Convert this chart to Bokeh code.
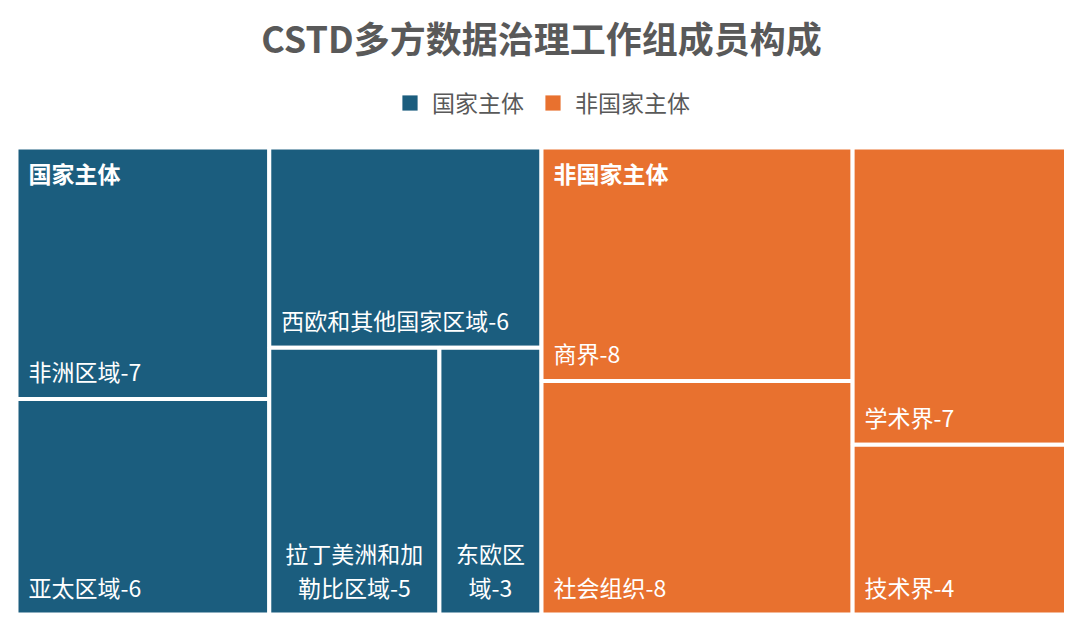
from bokeh.plotting import figure
from bokeh.models import Range1d, Legend, LegendItem, ColumnDataSource
from bokeh.core.properties import value
from bokeh.embed import file_html
from bokeh.resources import INLINE

# chart data
title_text = "CSTD多方数据治理工作组成员构成"
groups = ["国家主体", "非国家主体"]
group_colors = ["#1b5d7e", "#e8712f"]
state_names = ["非洲区域", "亚太区域", "西欧和其他国家区域", "拉丁美洲和加勒比区域", "东欧区域"]
state_values = [7, 6, 6, 5, 3]
nonstate_names = ["商界", "社会组织", "学术界", "技术界"]
nonstate_values = [8, 8, 7, 4]

W, H = 1064, 619
FONT = "Noto Sans CJK SC"
FS = 23

# treemap area (pixel-like data units, y grows downwards)
AX0, AX1, AY0, AY1 = 16, 1066, 147, 614


def worst(row, side):
    s = sum(row)
    return max(max(side * side * r / (s * s), s * s / (side * side * r)) for r in row)


def squarify(vals, x, y, w, h):
    total = sum(vals)
    areas = [v * w * h / total for v in vals]
    rects = []
    i = 0
    while i < len(areas):
        side = min(w, h)
        row = [areas[i]]
        j = i + 1
        while j < len(areas) and worst(row + [areas[j]], side) <= worst(row, side):
            row.append(areas[j])
            j += 1
        s = sum(row)
        if w >= h:
            cw = s / h
            yy = y
            for a in row:
                rh = a / cw
                rects.append((x, x + cw, yy, yy + rh))
                yy += rh
            x += cw
            w -= cw
        else:
            rh = s / w
            xx = x
            for a in row:
                cw = a / rh
                rects.append((xx, xx + cw, y, y + rh))
                xx += cw
            y += rh
            h -= rh
        i = j
    return rects


def text_width(s):
    return sum(FS * 0.55 if ord(c) < 128 else FS for c in s)


def wrap(s, width):
    lines, cur = [], ""
    for c in s:
        if cur and text_width(cur + c) > width:
            lines.append(cur)
            cur = c
        else:
            cur += c
    lines.append(cur)
    return lines


p = figure(width=W, height=H, output_backend="svg", toolbar_location=None,
           x_range=Range1d(0, W), y_range=Range1d(H, 0),
           min_border=0, outline_line_color=None)
p.axis.visible = False
p.grid.visible = False

group_rects = squarify([sum(state_values), sum(nonstate_values)], AX0, AY0, AX1 - AX0, AY1 - AY0)
leaf_sets = [(state_names, state_values), (nonstate_names, nonstate_values)]

legend_items = []
for g, (gx0, gx1, gy0, gy1) in enumerate(group_rects):
    names, vals = leaf_sets[g]
    rects = squarify(vals, gx0, gy0, gx1 - gx0, gy1 - gy0)
    src = ColumnDataSource(dict(
        left=[r[0] for r in rects], right=[r[1] for r in rects],
        top=[r[2] for r in rects], bottom=[r[3] for r in rects]))
    p.quad(left="left", right="right", top="top", bottom="bottom", source=src,
           fill_color=group_colors[g], line_color="white", line_width=4)

    # leaf labels at the bottom-left of each box
    sx, sy, st, cx, cy, ct = [], [], [], [], [], []
    for name, v, (x0, x1, y0, y1) in zip(names, vals, rects):
        lab = "%s-%d" % (name, v)
        lines = wrap(lab, x1 - x0 - 24)
        if len(lines) == 1:
            sx.append(x0 + 12)
            sy.append(y1 - 11)
            st.append(lab)
        else:
            cx.append((x0 + x1) / 2)
            cy.append(y1 - 11)
            ct.append("\n".join(lines))
    p.text(x=sx, y=sy, text=st, text_color="white", text_font=value(FONT),
           text_font_size="%dpx" % FS, text_align="left", text_baseline="bottom")
    if ct:
        p.text(x=cx, y=cy, text=ct, text_color="white", text_font=value(FONT),
               text_font_size="%dpx" % FS, text_align="center", text_baseline="bottom",
               text_line_height=1.0)

    # group header
    p.text(x=[gx0 + 12], y=[gy0 + 8], text=[groups[g]], text_color="white",
           text_font=value(FONT), text_font_size="%dpx" % FS, text_font_style="bold",
           text_align="left", text_baseline="top")

    # legend swatch (zero-size, only used by the legend)
    dummy = p.quad(left=[gx0], right=[gx0], top=[gy0], bottom=[gy0],
                   fill_color=group_colors[g], line_color=None)
    legend_items.append(LegendItem(label=groups[g], renderers=[dummy]))

# title
p.text(x=[W / 2 + 9], y=[36], text=[title_text], text_color="#595959",
       text_font=value(FONT), text_font_size="36px", text_font_style="bold",
       text_align="center", text_baseline="middle")

legend = Legend(items=legend_items, orientation="horizontal", location=(400, H - 96 - 23),
                margin=0, padding=0, spacing=19, label_standoff=13,
                glyph_width=19, glyph_height=19, label_height=23,
                label_text_font=FONT, label_text_font_size="23px", label_text_color="#595959",
                border_line_color=None, background_fill_alpha=0)
p.add_layout(legend)

open("out.html", "w").write(file_html(p, INLINE))
